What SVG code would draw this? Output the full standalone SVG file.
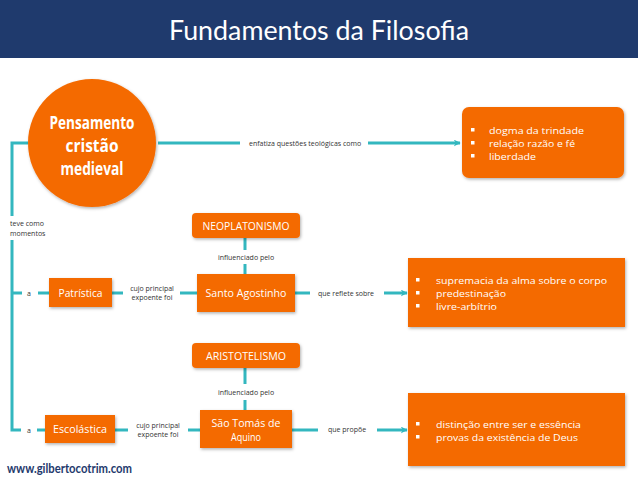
<svg xmlns="http://www.w3.org/2000/svg" width="638" height="478" viewBox="0 0 638 478">
<defs>
<filter id="sh" x="-10%" y="-10%" width="125%" height="130%">
<feDropShadow dx="1" dy="1.5" stdDeviation="1.5" flood-color="#000" flood-opacity="0.3"/>
</filter>
<marker id="ar" viewBox="0 0 10 10" refX="9" refY="5" markerWidth="7" markerHeight="7" markerUnits="userSpaceOnUse" orient="auto">
<path d="M0,0 L10,5 L0,10 L3,5 Z" fill="#33b7bf"/>
</marker>
<style>
.box{fill:#f46b06;filter:url(#sh)}
.bt{font-family:"Open Sans","Liberation Sans",sans-serif;font-size:10.5px;fill:#fff;text-anchor:middle}
.it{font-family:"Open Sans","Liberation Sans",sans-serif;font-size:9.5px;fill:#fff}
.lb{font-family:"Open Sans","Liberation Sans",sans-serif;font-size:7px;fill:#333}
.lc{font-family:"Open Sans","Liberation Sans",sans-serif;font-size:7px;fill:#333;text-anchor:middle}
.ln{fill:none;stroke:#33b7bf;stroke-width:3}
.bu{fill:#fff}
</style>
</defs>
<rect width="638" height="478" fill="#fff"/>
<g id="header">
<rect x="0" y="0" width="638" height="58" fill="#1f3a6d"/>
<text x="319" y="40" textLength="300" lengthAdjust="spacingAndGlyphs" text-anchor="middle" font-family="Lato,'Open Sans',sans-serif" font-size="26" fill="#fff">Fundamentos da Filosofia</text>
</g>
<g id="connectors">
<path class="ln" d="M28,143 H12 V216 M12,240 V430 H21 M12,293 H22 M38,293 H49 M112,293 H123 M180,293 H197 M245,238 V250 M245,264 V274 M295,293 H310 M245,368 V384 M245,400 V410 M37,430 H45 M115,430 H128 M188,430 H200 M292,430 H318 M158,143 H240"/>
<path class="ln" d="M368,143 H460" marker-end="url(#ar)"/>
<path class="ln" d="M384,293 H407" marker-end="url(#ar)"/>
<path class="ln" d="M377,430 H407" marker-end="url(#ar)"/>
<text class="lb" x="249" y="146">enfatiza questões teológicas como</text>
<text class="lb" x="10" y="226">teve como</text>
<text class="lb" x="10" y="236">momentos</text>
<text class="lb" x="27" y="296">a</text>
<text class="lb" x="27" y="433">a</text>
<text class="lc" x="152" y="291">cujo principal</text>
<text class="lc" x="152" y="300">expoente foi</text>
<text class="lc" x="158" y="428">cujo principal</text>
<text class="lc" x="158" y="437">expoente foi</text>
<text class="lc" x="246" y="260">influenciado pelo</text>
<text class="lc" x="246" y="395">influenciado pelo</text>
<text class="lb" x="318" y="296">que reflete sobre</text>
<text class="lb" x="328" y="432">que propõe</text>
</g>
<g id="pensamento">
<circle cx="92" cy="143" r="64" fill="#f46b06" filter="url(#sh)"/>
<text x="92" y="129" text-anchor="middle" font-family="'Open Sans','Liberation Sans',sans-serif" font-weight="bold" font-size="18" fill="#fff" textLength="85" lengthAdjust="spacingAndGlyphs">Pensamento</text>
<text x="92" y="152" text-anchor="middle" font-family="'Open Sans','Liberation Sans',sans-serif" font-weight="bold" font-size="18" fill="#fff" textLength="53" lengthAdjust="spacingAndGlyphs">cristão</text>
<text x="92" y="175" text-anchor="middle" font-family="'Open Sans','Liberation Sans',sans-serif" font-weight="bold" font-size="18" fill="#fff" textLength="63" lengthAdjust="spacingAndGlyphs">medieval</text>
</g>
<g id="temas">
<rect class="box" x="462" y="107" width="162" height="71" rx="7"/>
<rect class="bu" x="471" y="128" width="3.5" height="3.5"/>
<rect class="bu" x="471" y="141" width="3.5" height="3.5"/>
<rect class="bu" x="471" y="154" width="3.5" height="3.5"/>
<text class="it" x="489" y="134" textLength="95" lengthAdjust="spacingAndGlyphs">dogma da trindade</text>
<text class="it" x="489" y="147" textLength="86" lengthAdjust="spacingAndGlyphs">relação razão e fé</text>
<text class="it" x="489" y="160" textLength="47" lengthAdjust="spacingAndGlyphs">liberdade</text>
</g>
<g id="neoplatonismo">
<rect class="box" x="192" y="213" width="108" height="25" rx="4"/>
<text class="bt" x="246" y="229.5" textLength="87" lengthAdjust="spacingAndGlyphs">NEOPLATONISMO</text>
</g>
<g id="patristica">
<rect class="box" x="49" y="278" width="63" height="29"/>
<text class="bt" x="80.5" y="296.5" textLength="44" lengthAdjust="spacingAndGlyphs">Patrística</text>
</g>
<g id="agostinho">
<rect class="box" x="197" y="274" width="98" height="38"/>
<text class="bt" x="246" y="296.5" textLength="81" lengthAdjust="spacingAndGlyphs">Santo Agostinho</text>
</g>
<g id="reflexoes">
<rect class="box" x="408" y="258" width="217" height="69"/>
<rect class="bu" x="416" y="278" width="3.5" height="3.5"/>
<rect class="bu" x="416" y="291" width="3.5" height="3.5"/>
<rect class="bu" x="416" y="304" width="3.5" height="3.5"/>
<text class="it" x="436" y="283.5" textLength="171" lengthAdjust="spacingAndGlyphs">supremacia da alma sobre o corpo</text>
<text class="it" x="436" y="296.5" textLength="70" lengthAdjust="spacingAndGlyphs">predestinação</text>
<text class="it" x="436" y="309.5" textLength="61" lengthAdjust="spacingAndGlyphs">livre-arbítrio</text>
</g>
<g id="aristotelismo">
<rect class="box" x="192" y="343" width="108" height="25" rx="4"/>
<text class="bt" x="246" y="359.5" textLength="80" lengthAdjust="spacingAndGlyphs">ARISTOTELISMO</text>
</g>
<g id="escolastica">
<rect class="box" x="45" y="415" width="70" height="28"/>
<text class="bt" x="80" y="433" textLength="54" lengthAdjust="spacingAndGlyphs">Escolástica</text>
</g>
<g id="tomas">
<rect class="box" x="200" y="410" width="92" height="38"/>
<text class="bt" x="246" y="427" textLength="69" lengthAdjust="spacingAndGlyphs">São Tomás de</text>
<text class="bt" x="246" y="441" textLength="30" lengthAdjust="spacingAndGlyphs">Aquino</text>
</g>
<g id="propostas">
<rect class="box" x="408" y="393" width="217" height="73"/>
<rect class="bu" x="416" y="422" width="3.5" height="3.5"/>
<rect class="bu" x="416" y="435" width="3.5" height="3.5"/>
<text class="it" x="436" y="427.5" textLength="145" lengthAdjust="spacingAndGlyphs">distinção entre ser e essência</text>
<text class="it" x="436" y="440.5" textLength="142" lengthAdjust="spacingAndGlyphs">provas da existência de Deus</text>
</g>
<g id="footer">
<text x="7" y="473" textLength="125" lengthAdjust="spacingAndGlyphs" font-family="Lato,'Open Sans',sans-serif" font-weight="bold" font-size="13" fill="#1f3a6d">www.gilbertocotrim.com</text>
</g>
</svg>
